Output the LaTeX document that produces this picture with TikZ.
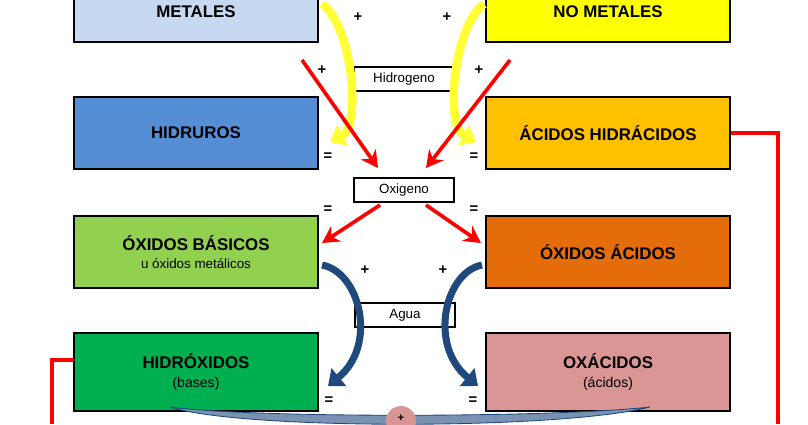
\documentclass[tikz,border=0pt]{standalone}
\usepackage{fontspec}
\setmainfont{Liberation Sans}
\usetikzlibrary{arrows.meta}
\definecolor{cMet}{HTML}{C6D9F1}
\definecolor{cNoMet}{HTML}{FFFF00}
\definecolor{cHid}{HTML}{558ED5}
\definecolor{cAH}{HTML}{FFC000}
\definecolor{cOB}{HTML}{92D050}
\definecolor{cOA}{HTML}{E46C0A}
\definecolor{cHX}{HTML}{00B050}
\definecolor{cOX}{HTML}{D99694}
\definecolor{cBl}{HTML}{1F497D}
\definecolor{cYel}{HTML}{FFFF33}
\begin{document}
\begin{tikzpicture}[x=0.025cm,y=-0.025cm,
 box/.style={draw=black,line width=1.6pt,minimum width=6.1cm,minimum height=1.8cm,font=\bfseries\fontsize{12}{14}\selectfont,align=center,inner sep=0pt},
 lbl/.style={draw=black,line width=1.2pt,fill=white,minimum width=2.5cm,minimum height=0.6cm,font=\fontsize{9.5}{10}\selectfont,inner sep=0pt},
 sym/.style={font=\bfseries\fontsize{10.5}{11}\selectfont},
 redar/.style={draw=red,line width=2.6pt,-{Stealth[length=12pt,width=13pt]}},
 yelar/.style={draw=cYel,line width=6pt,-{Triangle[length=10pt,width=16pt]}},
 bluar/.style={draw=cBl,line width=5pt,-{Triangle[length=10pt,width=16pt]}},
 redln/.style={draw=red,line width=2.2pt}]
\useasboundingbox (0,0) rectangle (808,424);
\node[box,fill=cMet,minimum height=1.5cm] (met) at (196,12) {METALES};
\node[box,fill=cNoMet,minimum height=1.5cm] (nomet) at (608,12) {NO METALES};
\node[box,fill=cHid] (hid) at (196,133) {HIDRUROS};
\node[box,fill=cAH] (ah) at (608,133) {ÁCIDOS HIDRÁCIDOS};
\node[box,fill=cOB] (ob) at (196,252) {ÓXIDOS BÁSICOS\\[-1pt]{\mdseries\fontsize{9.5}{11}\selectfont u óxidos metálicos}};
\node[box,fill=cOA] (oa) at (608,252) {ÓXIDOS ÁCIDOS};
\node[box,fill=cHX,minimum height=1.95cm] (hx) at (196,372) {HIDRÓXIDOS\\[-1pt]{\mdseries\fontsize{10}{11}\selectfont (bases)}};
\node[box,fill=cOX,minimum height=1.95cm] (ox) at (608,372) {OXÁCIDOS\\[-1pt]{\mdseries\fontsize{10}{11}\selectfont (ácidos)}};
\node[lbl] (h2) at (404,79) {Hidrogeno};
\node[lbl] (o2) at (404,190) {Oxigeno};
\node[lbl] (w) at (405,315) {Agua};
% named end points
\coordinate (y1s) at (322,4);   \coordinate (y1e) at (330,142);
\coordinate (y2s) at (484,4);   \coordinate (y2e) at (476,142);
\coordinate (r1s) at (302,60);  \coordinate (r1e) at (378,168);
\coordinate (r2s) at (510,60);  \coordinate (r2e) at (426,168);
\coordinate (r3s) at (380,205); \coordinate (r3e) at (322,243);
\coordinate (r4s) at (426,205); \coordinate (r4e) at (481,243);
\coordinate (b1s) at (322,265); \coordinate (b1e) at (328,386);
\coordinate (b2s) at (482,265); \coordinate (b2e) at (478,386);
\coordinate (hxl) at (74,360);
% yellow curved arrows
\draw[yelar] (y1s) .. controls (352,25) and (362,125) .. (y1e);
\draw[yelar] (y2s) .. controls (454,25) and (444,125) .. (y2e);
% red arrows
\draw[redar] (r1s) -- (r1e);
\draw[redar] (r2s) -- (r2e);
\draw[redar] (r3s) -- (r3e);
\draw[redar] (r4s) -- (r4e);
% blue curved arrows
\draw[bluar] (b1s) .. controls (360,272) and (378,345) .. (b1e);
\draw[bluar] (b2s) .. controls (445,272) and (428,345) .. (b2e);
% red connectors
\draw[redln] (ah.east) -- (778,133) -- (778,424);
\draw[redln] (hxl) -- (52,360) -- (52,424);
% bottom bracket
\fill[cBl!60!white,draw=cBl,line width=0.6pt] (170,407) .. controls (250,418) and (550,418) .. (650,407) .. controls (560,430) and (240,430) .. (170,407);
\node[circle,fill=cOX,minimum size=0.75cm,inner sep=0pt] (plus) at (401,421) {};
\node[sym,font=\bfseries\fontsize{8}{8}\selectfont] at (401,418) {+};
% symbols
\node[sym] at (358,17) {+}; \node[sym] at (447,17) {+};
\node[sym] at (322,70) {+}; \node[sym] at (479,70) {+};
\node[sym] at (328,157) {=}; \node[sym] at (474,157) {=};
\node[sym] at (328,210) {=}; \node[sym] at (474,210) {=};
\node[sym] at (365,270) {+}; \node[sym] at (443,270) {+};
\node[sym] at (329,401) {=}; \node[sym] at (473,401) {=};
\end{tikzpicture}
\end{document}
